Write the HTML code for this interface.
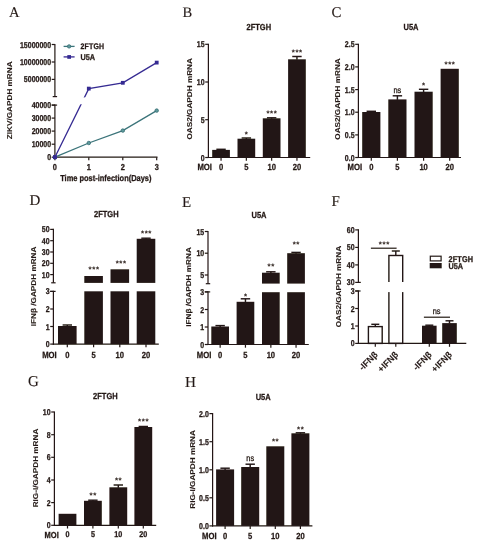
<!DOCTYPE html>
<html lang="en"><head><meta charset="utf-8"><title>Figure</title>
<style>
html,body{margin:0;padding:0;background:#fff;}
svg{display:block;font-family:"Liberation Sans", Arial, sans-serif;}
</style></head>
<body>
<svg width="479" height="550" viewBox="0 0 479 550" text-rendering="geometricPrecision">
<defs><filter id="soft" x="0" y="0" width="479" height="550" filterUnits="userSpaceOnUse"><feGaussianBlur stdDeviation="0.34"/></filter></defs>
<rect width="479" height="550" fill="#fff"/>
<g filter="url(#soft)">
<text x="9.10" y="16.70" font-size="14.6" text-anchor="start" font-weight="normal" fill="#231815" font-family='"Liberation Serif", "Times New Roman", serif' stroke="#231815" stroke-width="0.12">A</text>
<line x1="54.90" y1="43.90" x2="54.90" y2="96.60" stroke="#231815" stroke-width="1.2" stroke-linecap="butt"/>
<line x1="51.70" y1="44.50" x2="54.90" y2="44.50" stroke="#231815" stroke-width="1.2" stroke-linecap="butt"/>
<text transform="translate(51.10 47.50) scale(0.82 1)" font-size="8.54" text-anchor="end" font-weight="bold" fill="#231815" stroke="#231815" stroke-width="0.28">15000000</text>
<line x1="51.70" y1="62.00" x2="54.90" y2="62.00" stroke="#231815" stroke-width="1.2" stroke-linecap="butt"/>
<text transform="translate(51.10 65.00) scale(0.82 1)" font-size="8.54" text-anchor="end" font-weight="bold" fill="#231815" stroke="#231815" stroke-width="0.28">10000000</text>
<line x1="51.70" y1="79.40" x2="54.90" y2="79.40" stroke="#231815" stroke-width="1.2" stroke-linecap="butt"/>
<text transform="translate(51.10 82.40) scale(0.82 1)" font-size="8.54" text-anchor="end" font-weight="bold" fill="#231815" stroke="#231815" stroke-width="0.28">5000000</text>
<line x1="52.70" y1="96.60" x2="57.10" y2="96.60" stroke="#231815" stroke-width="1.2" stroke-linecap="butt"/>
<line x1="54.90" y1="104.50" x2="54.90" y2="157.80" stroke="#231815" stroke-width="1.2" stroke-linecap="butt"/>
<line x1="51.70" y1="105.10" x2="54.90" y2="105.10" stroke="#231815" stroke-width="1.2" stroke-linecap="butt"/>
<text transform="translate(51.10 108.10) scale(0.82 1)" font-size="8.54" text-anchor="end" font-weight="bold" fill="#231815" stroke="#231815" stroke-width="0.28">40000</text>
<line x1="51.70" y1="118.10" x2="54.90" y2="118.10" stroke="#231815" stroke-width="1.2" stroke-linecap="butt"/>
<text transform="translate(51.10 121.10) scale(0.82 1)" font-size="8.54" text-anchor="end" font-weight="bold" fill="#231815" stroke="#231815" stroke-width="0.28">30000</text>
<line x1="51.70" y1="131.10" x2="54.90" y2="131.10" stroke="#231815" stroke-width="1.2" stroke-linecap="butt"/>
<text transform="translate(51.10 134.10) scale(0.82 1)" font-size="8.54" text-anchor="end" font-weight="bold" fill="#231815" stroke="#231815" stroke-width="0.28">20000</text>
<line x1="51.70" y1="144.20" x2="54.90" y2="144.20" stroke="#231815" stroke-width="1.2" stroke-linecap="butt"/>
<text transform="translate(51.10 147.20) scale(0.82 1)" font-size="8.54" text-anchor="end" font-weight="bold" fill="#231815" stroke="#231815" stroke-width="0.28">10000</text>
<line x1="51.70" y1="157.20" x2="54.90" y2="157.20" stroke="#231815" stroke-width="1.2" stroke-linecap="butt"/>
<text transform="translate(51.10 160.20) scale(0.82 1)" font-size="8.54" text-anchor="end" font-weight="bold" fill="#231815" stroke="#231815" stroke-width="0.28">0</text>
<line x1="51.70" y1="105.10" x2="57.10" y2="105.10" stroke="#231815" stroke-width="1.2" stroke-linecap="butt"/>
<line x1="54.30" y1="157.20" x2="157.50" y2="157.20" stroke="#231815" stroke-width="1.2" stroke-linecap="butt"/>
<line x1="54.90" y1="157.20" x2="54.90" y2="160.20" stroke="#231815" stroke-width="1.2" stroke-linecap="butt"/>
<line x1="88.80" y1="157.20" x2="88.80" y2="160.20" stroke="#231815" stroke-width="1.2" stroke-linecap="butt"/>
<line x1="122.80" y1="157.20" x2="122.80" y2="160.20" stroke="#231815" stroke-width="1.2" stroke-linecap="butt"/>
<line x1="156.70" y1="157.20" x2="156.70" y2="160.20" stroke="#231815" stroke-width="1.2" stroke-linecap="butt"/>
<text transform="translate(54.90 169.60) scale(0.86 1)" font-size="8.60" text-anchor="middle" font-weight="bold" fill="#231815" stroke="#231815" stroke-width="0.28">0</text>
<text transform="translate(88.80 169.60) scale(0.86 1)" font-size="8.60" text-anchor="middle" font-weight="bold" fill="#231815" stroke="#231815" stroke-width="0.28">1</text>
<text transform="translate(122.80 169.60) scale(0.86 1)" font-size="8.60" text-anchor="middle" font-weight="bold" fill="#231815" stroke="#231815" stroke-width="0.28">2</text>
<text transform="translate(156.70 169.60) scale(0.86 1)" font-size="8.60" text-anchor="middle" font-weight="bold" fill="#231815" stroke="#231815" stroke-width="0.28">3</text>
<text transform="translate(105.80 180.90) scale(0.86 1)" font-size="8.66" text-anchor="middle" font-weight="bold" fill="#231815" stroke="#231815" stroke-width="0.28">Time post-infection(Days)</text>
<text transform="translate(11.92 100.30) scale(0.86 1) rotate(-90)" font-size="8.20" text-anchor="middle" font-weight="bold" fill="#231815" stroke="#231815" stroke-width="0.12">ZIKV/GAPDH mRNA</text>
<polyline points="54.9,157.2 88.8,143.0 122.8,130.6 156.7,110.6" fill="none" stroke="#3b747a" stroke-width="1.3"/>
<circle cx="54.9" cy="157.2" r="1.75" fill="#5f9a9c" stroke="#356c72" stroke-width="0.8"/>
<circle cx="88.8" cy="143.0" r="1.75" fill="#5f9a9c" stroke="#356c72" stroke-width="0.8"/>
<circle cx="122.8" cy="130.6" r="1.75" fill="#5f9a9c" stroke="#356c72" stroke-width="0.8"/>
<circle cx="156.7" cy="110.6" r="1.75" fill="#5f9a9c" stroke="#356c72" stroke-width="0.8"/>
<polyline points="54.9,157.2 88.8,88.6 122.8,82.8 156.7,62.6" fill="none" stroke="#352a92" stroke-width="1.3"/>
<rect x="58.00" y="97.40" width="40.00" height="6.90" fill="#fff"/>
<rect x="53.00" y="155.30" width="3.80" height="3.80" fill="#352a92"/>
<rect x="86.90" y="86.70" width="3.80" height="3.80" fill="#352a92"/>
<rect x="120.90" y="80.90" width="3.80" height="3.80" fill="#352a92"/>
<rect x="154.80" y="60.70" width="3.80" height="3.80" fill="#352a92"/>
<circle cx="54.9" cy="157.2" r="2.1" fill="#352a92"/>
<line x1="63.60" y1="46.40" x2="74.60" y2="46.40" stroke="#3b747a" stroke-width="1.3" stroke-linecap="butt"/>
<circle cx="69.1" cy="46.4" r="1.7" fill="#5f9a9c" stroke="#356c72" stroke-width="0.8"/>
<text transform="translate(80.40 49.10) scale(0.86 1)" font-size="8.14" text-anchor="start" font-weight="bold" fill="#231815" stroke="#231815" stroke-width="0.28" letter-spacing="0.25">2FTGH</text>
<line x1="63.60" y1="56.90" x2="74.60" y2="56.90" stroke="#352a92" stroke-width="1.3" stroke-linecap="butt"/>
<rect x="67.30" y="55.10" width="3.70" height="3.70" fill="#352a92"/>
<text transform="translate(80.40 59.50) scale(0.86 1)" font-size="8.49" text-anchor="start" font-weight="bold" fill="#231815" stroke="#231815" stroke-width="0.28">U5A</text>
<text x="182.50" y="16.70" font-size="14.6" text-anchor="start" font-weight="normal" fill="#231815" font-family='"Liberation Serif", "Times New Roman", serif' stroke="#231815" stroke-width="0.12">B</text>
<text transform="translate(258.80 30.30) scale(0.86 1)" font-size="8.72" text-anchor="middle" font-weight="bold" fill="#231815" stroke="#231815" stroke-width="0.28">2FTGH</text>
<text transform="translate(191.52 98.80) scale(0.86 1) rotate(-90)" font-size="8.20" text-anchor="middle" font-weight="bold" fill="#231815" stroke="#231815" stroke-width="0.12">OAS2/GAPDH mRNA</text>
<rect x="212.20" y="149.90" width="17.70" height="7.60" fill="#231815"/>
<line x1="221.05" y1="149.30" x2="221.05" y2="150.40" stroke="#231815" stroke-width="1.45" stroke-linecap="butt"/>
<line x1="216.35" y1="149.30" x2="225.75" y2="149.30" stroke="#231815" stroke-width="1.45" stroke-linecap="butt"/>
<rect x="237.50" y="138.70" width="17.70" height="18.80" fill="#231815"/>
<line x1="246.35" y1="138.00" x2="246.35" y2="139.20" stroke="#231815" stroke-width="1.45" stroke-linecap="butt"/>
<line x1="241.65" y1="138.00" x2="251.05" y2="138.00" stroke="#231815" stroke-width="1.45" stroke-linecap="butt"/>
<text x="246.65" y="136.87" font-size="7.8" text-anchor="middle" font-weight="bold" fill="#231815" stroke="#231815" stroke-width="0.1" letter-spacing="0.65">*</text>
<rect x="262.80" y="118.30" width="17.70" height="39.20" fill="#231815"/>
<line x1="271.65" y1="117.80" x2="271.65" y2="118.80" stroke="#231815" stroke-width="1.45" stroke-linecap="butt"/>
<line x1="266.95" y1="117.80" x2="276.35" y2="117.80" stroke="#231815" stroke-width="1.45" stroke-linecap="butt"/>
<text x="271.95" y="115.87" font-size="7.8" text-anchor="middle" font-weight="bold" fill="#231815" stroke="#231815" stroke-width="0.1" letter-spacing="0.65">***</text>
<rect x="288.10" y="59.30" width="17.70" height="98.20" fill="#231815"/>
<line x1="296.95" y1="56.50" x2="296.95" y2="59.80" stroke="#231815" stroke-width="1.45" stroke-linecap="butt"/>
<line x1="292.25" y1="56.50" x2="301.65" y2="56.50" stroke="#231815" stroke-width="1.45" stroke-linecap="butt"/>
<text x="297.25" y="54.97" font-size="7.8" text-anchor="middle" font-weight="bold" fill="#231815" stroke="#231815" stroke-width="0.1" letter-spacing="0.65">***</text>
<line x1="208.40" y1="43.70" x2="208.40" y2="158.10" stroke="#231815" stroke-width="1.2" stroke-linecap="butt"/>
<line x1="205.20" y1="44.30" x2="208.40" y2="44.30" stroke="#231815" stroke-width="1.2" stroke-linecap="butt"/>
<text transform="translate(204.60 47.30) scale(0.82 1)" font-size="8.54" text-anchor="end" font-weight="bold" fill="#231815" stroke="#231815" stroke-width="0.28">15</text>
<line x1="205.20" y1="82.00" x2="208.40" y2="82.00" stroke="#231815" stroke-width="1.2" stroke-linecap="butt"/>
<text transform="translate(204.60 85.00) scale(0.82 1)" font-size="8.54" text-anchor="end" font-weight="bold" fill="#231815" stroke="#231815" stroke-width="0.28">10</text>
<line x1="205.20" y1="119.70" x2="208.40" y2="119.70" stroke="#231815" stroke-width="1.2" stroke-linecap="butt"/>
<text transform="translate(204.60 122.70) scale(0.82 1)" font-size="8.54" text-anchor="end" font-weight="bold" fill="#231815" stroke="#231815" stroke-width="0.28">5</text>
<line x1="205.20" y1="157.50" x2="208.40" y2="157.50" stroke="#231815" stroke-width="1.2" stroke-linecap="butt"/>
<text transform="translate(204.60 160.50) scale(0.82 1)" font-size="8.54" text-anchor="end" font-weight="bold" fill="#231815" stroke="#231815" stroke-width="0.28">0</text>
<line x1="207.80" y1="157.50" x2="310.20" y2="157.50" stroke="#231815" stroke-width="1.2" stroke-linecap="butt"/>
<line x1="221.05" y1="157.50" x2="221.05" y2="160.70" stroke="#231815" stroke-width="1.2" stroke-linecap="butt"/>
<line x1="246.35" y1="157.50" x2="246.35" y2="160.70" stroke="#231815" stroke-width="1.2" stroke-linecap="butt"/>
<line x1="271.65" y1="157.50" x2="271.65" y2="160.70" stroke="#231815" stroke-width="1.2" stroke-linecap="butt"/>
<line x1="296.95" y1="157.50" x2="296.95" y2="160.70" stroke="#231815" stroke-width="1.2" stroke-linecap="butt"/>
<text transform="translate(221.05 170.30) scale(0.86 1)" font-size="8.84" text-anchor="middle" font-weight="bold" fill="#231815" stroke="#231815" stroke-width="0.28">0</text>
<text transform="translate(246.35 170.30) scale(0.86 1)" font-size="8.84" text-anchor="middle" font-weight="bold" fill="#231815" stroke="#231815" stroke-width="0.28">5</text>
<text transform="translate(271.65 170.30) scale(0.86 1)" font-size="8.84" text-anchor="middle" font-weight="bold" fill="#231815" stroke="#231815" stroke-width="0.28">10</text>
<text transform="translate(296.95 170.30) scale(0.86 1)" font-size="8.84" text-anchor="middle" font-weight="bold" fill="#231815" stroke="#231815" stroke-width="0.28">20</text>
<text transform="translate(197.40 170.30) scale(0.86 1)" font-size="8.95" text-anchor="start" font-weight="bold" fill="#231815" stroke="#231815" stroke-width="0.28">MOI</text>
<text x="331.50" y="16.80" font-size="14.9" text-anchor="start" font-weight="normal" fill="#231815" font-family='"Liberation Serif", "Times New Roman", serif' stroke="#231815" stroke-width="0.12">C</text>
<text transform="translate(411.00 30.30) scale(0.86 1)" font-size="8.72" text-anchor="middle" font-weight="bold" fill="#231815" stroke="#231815" stroke-width="0.28">U5A</text>
<text transform="translate(339.52 99.00) scale(0.86 1) rotate(-90)" font-size="8.20" text-anchor="middle" font-weight="bold" fill="#231815" stroke="#231815" stroke-width="0.12">OAS2/GAPDH mRNA</text>
<rect x="362.20" y="112.00" width="18.20" height="45.50" fill="#231815"/>
<line x1="371.30" y1="111.30" x2="371.30" y2="112.50" stroke="#231815" stroke-width="1.45" stroke-linecap="butt"/>
<line x1="366.60" y1="111.30" x2="376.00" y2="111.30" stroke="#231815" stroke-width="1.45" stroke-linecap="butt"/>
<rect x="388.30" y="99.40" width="18.20" height="58.10" fill="#231815"/>
<line x1="397.40" y1="95.80" x2="397.40" y2="99.90" stroke="#231815" stroke-width="1.45" stroke-linecap="butt"/>
<line x1="392.70" y1="95.80" x2="402.10" y2="95.80" stroke="#231815" stroke-width="1.45" stroke-linecap="butt"/>
<text transform="translate(397.40 92.70) scale(0.86 1)" font-size="8.60" text-anchor="middle" font-weight="normal" fill="#231815" stroke="#231815" stroke-width="0.3">ns</text>
<rect x="414.50" y="91.70" width="18.20" height="65.80" fill="#231815"/>
<line x1="423.60" y1="89.30" x2="423.60" y2="92.20" stroke="#231815" stroke-width="1.45" stroke-linecap="butt"/>
<line x1="418.90" y1="89.30" x2="428.30" y2="89.30" stroke="#231815" stroke-width="1.45" stroke-linecap="butt"/>
<text x="423.90" y="88.37" font-size="7.8" text-anchor="middle" font-weight="bold" fill="#231815" stroke="#231815" stroke-width="0.1" letter-spacing="0.65">*</text>
<rect x="440.60" y="68.80" width="18.20" height="88.70" fill="#231815"/>
<text x="450.00" y="66.77" font-size="7.8" text-anchor="middle" font-weight="bold" fill="#231815" stroke="#231815" stroke-width="0.1" letter-spacing="0.65">***</text>
<line x1="358.40" y1="43.70" x2="358.40" y2="158.10" stroke="#231815" stroke-width="1.2" stroke-linecap="butt"/>
<line x1="355.20" y1="44.30" x2="358.40" y2="44.30" stroke="#231815" stroke-width="1.2" stroke-linecap="butt"/>
<text transform="translate(354.60 47.30) scale(0.82 1)" font-size="8.54" text-anchor="end" font-weight="bold" fill="#231815" stroke="#231815" stroke-width="0.28">2.5</text>
<line x1="355.20" y1="66.90" x2="358.40" y2="66.90" stroke="#231815" stroke-width="1.2" stroke-linecap="butt"/>
<text transform="translate(354.60 69.90) scale(0.82 1)" font-size="8.54" text-anchor="end" font-weight="bold" fill="#231815" stroke="#231815" stroke-width="0.28">2.0</text>
<line x1="355.20" y1="89.60" x2="358.40" y2="89.60" stroke="#231815" stroke-width="1.2" stroke-linecap="butt"/>
<text transform="translate(354.60 92.60) scale(0.82 1)" font-size="8.54" text-anchor="end" font-weight="bold" fill="#231815" stroke="#231815" stroke-width="0.28">1.5</text>
<line x1="355.20" y1="112.20" x2="358.40" y2="112.20" stroke="#231815" stroke-width="1.2" stroke-linecap="butt"/>
<text transform="translate(354.60 115.20) scale(0.82 1)" font-size="8.54" text-anchor="end" font-weight="bold" fill="#231815" stroke="#231815" stroke-width="0.28">1.0</text>
<line x1="355.20" y1="134.90" x2="358.40" y2="134.90" stroke="#231815" stroke-width="1.2" stroke-linecap="butt"/>
<text transform="translate(354.60 137.90) scale(0.82 1)" font-size="8.54" text-anchor="end" font-weight="bold" fill="#231815" stroke="#231815" stroke-width="0.28">0.5</text>
<line x1="355.20" y1="157.50" x2="358.40" y2="157.50" stroke="#231815" stroke-width="1.2" stroke-linecap="butt"/>
<text transform="translate(354.60 160.50) scale(0.82 1)" font-size="8.54" text-anchor="end" font-weight="bold" fill="#231815" stroke="#231815" stroke-width="0.28">0.0</text>
<line x1="357.80" y1="157.50" x2="461.00" y2="157.50" stroke="#231815" stroke-width="1.2" stroke-linecap="butt"/>
<line x1="371.30" y1="157.50" x2="371.30" y2="160.70" stroke="#231815" stroke-width="1.2" stroke-linecap="butt"/>
<line x1="397.40" y1="157.50" x2="397.40" y2="160.70" stroke="#231815" stroke-width="1.2" stroke-linecap="butt"/>
<line x1="423.60" y1="157.50" x2="423.60" y2="160.70" stroke="#231815" stroke-width="1.2" stroke-linecap="butt"/>
<line x1="449.70" y1="157.50" x2="449.70" y2="160.70" stroke="#231815" stroke-width="1.2" stroke-linecap="butt"/>
<text transform="translate(371.30 170.30) scale(0.86 1)" font-size="8.84" text-anchor="middle" font-weight="bold" fill="#231815" stroke="#231815" stroke-width="0.28">0</text>
<text transform="translate(397.40 170.30) scale(0.86 1)" font-size="8.84" text-anchor="middle" font-weight="bold" fill="#231815" stroke="#231815" stroke-width="0.28">5</text>
<text transform="translate(423.60 170.30) scale(0.86 1)" font-size="8.84" text-anchor="middle" font-weight="bold" fill="#231815" stroke="#231815" stroke-width="0.28">10</text>
<text transform="translate(449.70 170.30) scale(0.86 1)" font-size="8.84" text-anchor="middle" font-weight="bold" fill="#231815" stroke="#231815" stroke-width="0.28">20</text>
<text transform="translate(347.60 170.30) scale(0.86 1)" font-size="8.95" text-anchor="start" font-weight="bold" fill="#231815" stroke="#231815" stroke-width="0.28">MOI</text>
<text x="29.50" y="204.90" font-size="15.0" text-anchor="start" font-weight="normal" fill="#231815" font-family='"Liberation Serif", "Times New Roman", serif' stroke="#231815" stroke-width="0.12">D</text>
<text transform="translate(106.30 216.60) scale(0.86 1)" font-size="8.72" text-anchor="middle" font-weight="bold" fill="#231815" stroke="#231815" stroke-width="0.28">2FTGH</text>
<text transform="translate(36.22 286.40) scale(0.86 1) rotate(-90)" font-size="8.20" text-anchor="middle" font-weight="bold" fill="#231815" stroke="#231815" stroke-width="0.12">IFNβ /GAPDH mRNA</text>
<rect x="58.00" y="326.00" width="18.60" height="18.10" fill="#231815"/>
<line x1="67.30" y1="325.00" x2="67.30" y2="326.50" stroke="#231815" stroke-width="1.45" stroke-linecap="butt"/>
<line x1="62.60" y1="325.00" x2="72.00" y2="325.00" stroke="#231815" stroke-width="1.45" stroke-linecap="butt"/>
<rect x="84.30" y="276.00" width="18.60" height="68.10" fill="#231815"/>
<text x="94.10" y="271.77" font-size="7.8" text-anchor="middle" font-weight="bold" fill="#231815" stroke="#231815" stroke-width="0.1" letter-spacing="0.65">***</text>
<rect x="110.50" y="269.30" width="18.60" height="74.80" fill="#231815"/>
<text x="121.20" y="266.07" font-size="7.8" text-anchor="middle" font-weight="bold" fill="#231815" stroke="#231815" stroke-width="0.1" letter-spacing="0.65">***</text>
<rect x="136.70" y="238.80" width="18.60" height="105.30" fill="#231815"/>
<line x1="146.00" y1="238.20" x2="146.00" y2="239.30" stroke="#231815" stroke-width="1.45" stroke-linecap="butt"/>
<line x1="141.30" y1="238.20" x2="150.70" y2="238.20" stroke="#231815" stroke-width="1.45" stroke-linecap="butt"/>
<text x="146.50" y="235.87" font-size="7.8" text-anchor="middle" font-weight="bold" fill="#231815" stroke="#231815" stroke-width="0.1" letter-spacing="0.65">***</text>
<rect x="56.00" y="282.90" width="105.00" height="8.40" fill="#fff"/>
<line x1="53.40" y1="228.80" x2="53.40" y2="282.80" stroke="#231815" stroke-width="1.2" stroke-linecap="butt"/>
<line x1="50.20" y1="229.40" x2="53.40" y2="229.40" stroke="#231815" stroke-width="1.2" stroke-linecap="butt"/>
<text transform="translate(49.60 232.40) scale(0.82 1)" font-size="8.54" text-anchor="end" font-weight="bold" fill="#231815" stroke="#231815" stroke-width="0.28">50</text>
<line x1="50.20" y1="240.70" x2="53.40" y2="240.70" stroke="#231815" stroke-width="1.2" stroke-linecap="butt"/>
<text transform="translate(49.60 243.70) scale(0.82 1)" font-size="8.54" text-anchor="end" font-weight="bold" fill="#231815" stroke="#231815" stroke-width="0.28">40</text>
<line x1="50.20" y1="252.00" x2="53.40" y2="252.00" stroke="#231815" stroke-width="1.2" stroke-linecap="butt"/>
<text transform="translate(49.60 255.00) scale(0.82 1)" font-size="8.54" text-anchor="end" font-weight="bold" fill="#231815" stroke="#231815" stroke-width="0.28">30</text>
<line x1="50.20" y1="263.30" x2="53.40" y2="263.30" stroke="#231815" stroke-width="1.2" stroke-linecap="butt"/>
<text transform="translate(49.60 266.30) scale(0.82 1)" font-size="8.54" text-anchor="end" font-weight="bold" fill="#231815" stroke="#231815" stroke-width="0.28">20</text>
<line x1="50.20" y1="274.60" x2="53.40" y2="274.60" stroke="#231815" stroke-width="1.2" stroke-linecap="butt"/>
<text transform="translate(49.60 277.60) scale(0.82 1)" font-size="8.54" text-anchor="end" font-weight="bold" fill="#231815" stroke="#231815" stroke-width="0.28">10</text>
<line x1="51.20" y1="282.80" x2="55.60" y2="282.80" stroke="#231815" stroke-width="1.2" stroke-linecap="butt"/>
<line x1="53.40" y1="290.80" x2="53.40" y2="344.70" stroke="#231815" stroke-width="1.2" stroke-linecap="butt"/>
<line x1="50.20" y1="291.40" x2="53.40" y2="291.40" stroke="#231815" stroke-width="1.2" stroke-linecap="butt"/>
<text transform="translate(49.60 294.40) scale(0.82 1)" font-size="8.54" text-anchor="end" font-weight="bold" fill="#231815" stroke="#231815" stroke-width="0.28">3</text>
<line x1="50.20" y1="309.00" x2="53.40" y2="309.00" stroke="#231815" stroke-width="1.2" stroke-linecap="butt"/>
<text transform="translate(49.60 312.00) scale(0.82 1)" font-size="8.54" text-anchor="end" font-weight="bold" fill="#231815" stroke="#231815" stroke-width="0.28">2</text>
<line x1="50.20" y1="326.50" x2="53.40" y2="326.50" stroke="#231815" stroke-width="1.2" stroke-linecap="butt"/>
<text transform="translate(49.60 329.50) scale(0.82 1)" font-size="8.54" text-anchor="end" font-weight="bold" fill="#231815" stroke="#231815" stroke-width="0.28">1</text>
<line x1="50.20" y1="344.10" x2="53.40" y2="344.10" stroke="#231815" stroke-width="1.2" stroke-linecap="butt"/>
<text transform="translate(49.60 347.10) scale(0.82 1)" font-size="8.54" text-anchor="end" font-weight="bold" fill="#231815" stroke="#231815" stroke-width="0.28">0</text>
<line x1="50.20" y1="291.40" x2="55.60" y2="291.40" stroke="#231815" stroke-width="1.2" stroke-linecap="butt"/>
<line x1="52.80" y1="344.10" x2="158.80" y2="344.10" stroke="#231815" stroke-width="1.2" stroke-linecap="butt"/>
<line x1="67.30" y1="344.10" x2="67.30" y2="347.30" stroke="#231815" stroke-width="1.2" stroke-linecap="butt"/>
<line x1="93.60" y1="344.10" x2="93.60" y2="347.30" stroke="#231815" stroke-width="1.2" stroke-linecap="butt"/>
<line x1="119.80" y1="344.10" x2="119.80" y2="347.30" stroke="#231815" stroke-width="1.2" stroke-linecap="butt"/>
<line x1="146.00" y1="344.10" x2="146.00" y2="347.30" stroke="#231815" stroke-width="1.2" stroke-linecap="butt"/>
<text transform="translate(67.30 357.90) scale(0.86 1)" font-size="8.84" text-anchor="middle" font-weight="bold" fill="#231815" stroke="#231815" stroke-width="0.28">0</text>
<text transform="translate(93.60 357.90) scale(0.86 1)" font-size="8.84" text-anchor="middle" font-weight="bold" fill="#231815" stroke="#231815" stroke-width="0.28">5</text>
<text transform="translate(119.80 357.90) scale(0.86 1)" font-size="8.84" text-anchor="middle" font-weight="bold" fill="#231815" stroke="#231815" stroke-width="0.28">10</text>
<text transform="translate(146.00 357.90) scale(0.86 1)" font-size="8.84" text-anchor="middle" font-weight="bold" fill="#231815" stroke="#231815" stroke-width="0.28">20</text>
<text transform="translate(42.20 357.90) scale(0.86 1)" font-size="8.95" text-anchor="start" font-weight="bold" fill="#231815" stroke="#231815" stroke-width="0.28">MOI</text>
<text x="182.00" y="206.50" font-size="15.0" text-anchor="start" font-weight="normal" fill="#231815" font-family='"Liberation Serif", "Times New Roman", serif' stroke="#231815" stroke-width="0.12">E</text>
<text transform="translate(259.00 218.20) scale(0.86 1)" font-size="8.72" text-anchor="middle" font-weight="bold" fill="#231815" stroke="#231815" stroke-width="0.28">U5A</text>
<text transform="translate(191.22 287.00) scale(0.86 1) rotate(-90)" font-size="8.20" text-anchor="middle" font-weight="bold" fill="#231815" stroke="#231815" stroke-width="0.12">IFNβ /GAPDH mRNA</text>
<rect x="211.30" y="326.50" width="17.70" height="18.00" fill="#231815"/>
<line x1="220.15" y1="325.60" x2="220.15" y2="327.00" stroke="#231815" stroke-width="1.45" stroke-linecap="butt"/>
<line x1="215.45" y1="325.60" x2="224.85" y2="325.60" stroke="#231815" stroke-width="1.45" stroke-linecap="butt"/>
<rect x="236.60" y="301.80" width="17.70" height="42.70" fill="#231815"/>
<line x1="245.45" y1="298.80" x2="245.45" y2="302.30" stroke="#231815" stroke-width="1.45" stroke-linecap="butt"/>
<line x1="240.75" y1="298.80" x2="250.15" y2="298.80" stroke="#231815" stroke-width="1.45" stroke-linecap="butt"/>
<rect x="262.00" y="272.70" width="17.70" height="71.80" fill="#231815"/>
<line x1="270.85" y1="271.80" x2="270.85" y2="273.20" stroke="#231815" stroke-width="1.45" stroke-linecap="butt"/>
<line x1="266.15" y1="271.80" x2="275.55" y2="271.80" stroke="#231815" stroke-width="1.45" stroke-linecap="butt"/>
<rect x="287.20" y="253.20" width="17.70" height="91.30" fill="#231815"/>
<line x1="296.05" y1="252.40" x2="296.05" y2="253.70" stroke="#231815" stroke-width="1.45" stroke-linecap="butt"/>
<line x1="291.35" y1="252.40" x2="300.75" y2="252.40" stroke="#231815" stroke-width="1.45" stroke-linecap="butt"/>
<rect x="210.00" y="283.60" width="102.00" height="8.60" fill="#fff"/>
<text x="245.75" y="298.87" font-size="7.8" text-anchor="middle" font-weight="bold" fill="#231815" stroke="#231815" stroke-width="0.1" letter-spacing="0.65">*</text>
<text x="271.15" y="268.67" font-size="7.8" text-anchor="middle" font-weight="bold" fill="#231815" stroke="#231815" stroke-width="0.1" letter-spacing="0.65">**</text>
<text x="296.35" y="247.37" font-size="7.8" text-anchor="middle" font-weight="bold" fill="#231815" stroke="#231815" stroke-width="0.1" letter-spacing="0.65">**</text>
<line x1="208.00" y1="230.90" x2="208.00" y2="283.70" stroke="#231815" stroke-width="1.2" stroke-linecap="butt"/>
<line x1="204.80" y1="231.50" x2="208.00" y2="231.50" stroke="#231815" stroke-width="1.2" stroke-linecap="butt"/>
<text transform="translate(204.20 234.50) scale(0.82 1)" font-size="8.54" text-anchor="end" font-weight="bold" fill="#231815" stroke="#231815" stroke-width="0.28">15</text>
<line x1="204.80" y1="253.20" x2="208.00" y2="253.20" stroke="#231815" stroke-width="1.2" stroke-linecap="butt"/>
<text transform="translate(204.20 256.20) scale(0.82 1)" font-size="8.54" text-anchor="end" font-weight="bold" fill="#231815" stroke="#231815" stroke-width="0.28">10</text>
<line x1="204.80" y1="275.00" x2="208.00" y2="275.00" stroke="#231815" stroke-width="1.2" stroke-linecap="butt"/>
<text transform="translate(204.20 278.00) scale(0.82 1)" font-size="8.54" text-anchor="end" font-weight="bold" fill="#231815" stroke="#231815" stroke-width="0.28">5</text>
<line x1="205.80" y1="283.70" x2="210.20" y2="283.70" stroke="#231815" stroke-width="1.2" stroke-linecap="butt"/>
<line x1="208.00" y1="291.30" x2="208.00" y2="345.10" stroke="#231815" stroke-width="1.2" stroke-linecap="butt"/>
<line x1="204.80" y1="291.90" x2="208.00" y2="291.90" stroke="#231815" stroke-width="1.2" stroke-linecap="butt"/>
<text transform="translate(204.20 294.90) scale(0.82 1)" font-size="8.54" text-anchor="end" font-weight="bold" fill="#231815" stroke="#231815" stroke-width="0.28">3</text>
<line x1="204.80" y1="309.50" x2="208.00" y2="309.50" stroke="#231815" stroke-width="1.2" stroke-linecap="butt"/>
<text transform="translate(204.20 312.50) scale(0.82 1)" font-size="8.54" text-anchor="end" font-weight="bold" fill="#231815" stroke="#231815" stroke-width="0.28">2</text>
<line x1="204.80" y1="327.00" x2="208.00" y2="327.00" stroke="#231815" stroke-width="1.2" stroke-linecap="butt"/>
<text transform="translate(204.20 330.00) scale(0.82 1)" font-size="8.54" text-anchor="end" font-weight="bold" fill="#231815" stroke="#231815" stroke-width="0.28">1</text>
<line x1="204.80" y1="344.50" x2="208.00" y2="344.50" stroke="#231815" stroke-width="1.2" stroke-linecap="butt"/>
<text transform="translate(204.20 347.50) scale(0.82 1)" font-size="8.54" text-anchor="end" font-weight="bold" fill="#231815" stroke="#231815" stroke-width="0.28">0</text>
<line x1="204.80" y1="291.90" x2="210.20" y2="291.90" stroke="#231815" stroke-width="1.2" stroke-linecap="butt"/>
<line x1="207.40" y1="344.50" x2="308.80" y2="344.50" stroke="#231815" stroke-width="1.2" stroke-linecap="butt"/>
<line x1="220.15" y1="344.50" x2="220.15" y2="347.70" stroke="#231815" stroke-width="1.2" stroke-linecap="butt"/>
<line x1="245.45" y1="344.50" x2="245.45" y2="347.70" stroke="#231815" stroke-width="1.2" stroke-linecap="butt"/>
<line x1="270.85" y1="344.50" x2="270.85" y2="347.70" stroke="#231815" stroke-width="1.2" stroke-linecap="butt"/>
<line x1="296.05" y1="344.50" x2="296.05" y2="347.70" stroke="#231815" stroke-width="1.2" stroke-linecap="butt"/>
<text transform="translate(220.15 358.40) scale(0.86 1)" font-size="8.84" text-anchor="middle" font-weight="bold" fill="#231815" stroke="#231815" stroke-width="0.28">0</text>
<text transform="translate(245.45 358.40) scale(0.86 1)" font-size="8.84" text-anchor="middle" font-weight="bold" fill="#231815" stroke="#231815" stroke-width="0.28">5</text>
<text transform="translate(270.85 358.40) scale(0.86 1)" font-size="8.84" text-anchor="middle" font-weight="bold" fill="#231815" stroke="#231815" stroke-width="0.28">10</text>
<text transform="translate(296.05 358.40) scale(0.86 1)" font-size="8.84" text-anchor="middle" font-weight="bold" fill="#231815" stroke="#231815" stroke-width="0.28">20</text>
<text transform="translate(196.80 358.40) scale(0.86 1)" font-size="8.95" text-anchor="start" font-weight="bold" fill="#231815" stroke="#231815" stroke-width="0.28">MOI</text>
<text x="331.40" y="205.60" font-size="15.0" text-anchor="start" font-weight="normal" fill="#231815" font-family='"Liberation Serif", "Times New Roman", serif' stroke="#231815" stroke-width="0.12">F</text>
<text transform="translate(340.92 286.60) scale(0.86 1) rotate(-90)" font-size="8.20" text-anchor="middle" font-weight="bold" fill="#231815" stroke="#231815" stroke-width="0.12">OAS2/GAPDH mRNA</text>
<rect x="368.40" y="326.60" width="13.80" height="16.80" fill="#fff" stroke="#231815" stroke-width="1.4"/>
<line x1="375.30" y1="324.30" x2="375.30" y2="326.50" stroke="#231815" stroke-width="1.45" stroke-linecap="butt"/>
<line x1="371.30" y1="324.30" x2="379.30" y2="324.30" stroke="#231815" stroke-width="1.45" stroke-linecap="butt"/>
<rect x="388.90" y="255.50" width="13.80" height="87.90" fill="#fff" stroke="#231815" stroke-width="1.4"/>
<line x1="395.80" y1="251.00" x2="395.80" y2="255.40" stroke="#231815" stroke-width="1.45" stroke-linecap="butt"/>
<line x1="391.80" y1="251.00" x2="399.80" y2="251.00" stroke="#231815" stroke-width="1.45" stroke-linecap="butt"/>
<rect x="422.00" y="325.70" width="14.60" height="17.70" fill="#231815"/>
<line x1="429.30" y1="325.20" x2="429.30" y2="326.20" stroke="#231815" stroke-width="1.45" stroke-linecap="butt"/>
<line x1="425.30" y1="325.20" x2="433.30" y2="325.20" stroke="#231815" stroke-width="1.45" stroke-linecap="butt"/>
<rect x="442.20" y="323.10" width="14.60" height="20.30" fill="#231815"/>
<line x1="449.50" y1="320.80" x2="449.50" y2="323.60" stroke="#231815" stroke-width="1.45" stroke-linecap="butt"/>
<line x1="445.50" y1="320.80" x2="453.50" y2="320.80" stroke="#231815" stroke-width="1.45" stroke-linecap="butt"/>
<rect x="385.00" y="282.00" width="22.00" height="10.10" fill="#fff"/>
<line x1="358.40" y1="229.30" x2="358.40" y2="283.00" stroke="#231815" stroke-width="1.2" stroke-linecap="butt"/>
<line x1="355.20" y1="229.90" x2="358.40" y2="229.90" stroke="#231815" stroke-width="1.2" stroke-linecap="butt"/>
<text transform="translate(354.60 232.90) scale(0.82 1)" font-size="8.54" text-anchor="end" font-weight="bold" fill="#231815" stroke="#231815" stroke-width="0.28">60</text>
<line x1="355.20" y1="247.40" x2="358.40" y2="247.40" stroke="#231815" stroke-width="1.2" stroke-linecap="butt"/>
<text transform="translate(354.60 250.40) scale(0.82 1)" font-size="8.54" text-anchor="end" font-weight="bold" fill="#231815" stroke="#231815" stroke-width="0.28">50</text>
<line x1="355.20" y1="264.90" x2="358.40" y2="264.90" stroke="#231815" stroke-width="1.2" stroke-linecap="butt"/>
<text transform="translate(354.60 267.90) scale(0.82 1)" font-size="8.54" text-anchor="end" font-weight="bold" fill="#231815" stroke="#231815" stroke-width="0.28">40</text>
<line x1="355.20" y1="282.40" x2="358.40" y2="282.40" stroke="#231815" stroke-width="1.2" stroke-linecap="butt"/>
<text transform="translate(354.60 285.40) scale(0.82 1)" font-size="8.54" text-anchor="end" font-weight="bold" fill="#231815" stroke="#231815" stroke-width="0.28">30</text>
<line x1="358.40" y1="282.40" x2="360.80" y2="282.40" stroke="#231815" stroke-width="1.2" stroke-linecap="butt"/>
<line x1="358.40" y1="290.40" x2="358.40" y2="344.00" stroke="#231815" stroke-width="1.2" stroke-linecap="butt"/>
<line x1="355.20" y1="291.00" x2="358.40" y2="291.00" stroke="#231815" stroke-width="1.2" stroke-linecap="butt"/>
<text transform="translate(354.60 294.00) scale(0.82 1)" font-size="8.54" text-anchor="end" font-weight="bold" fill="#231815" stroke="#231815" stroke-width="0.28">3</text>
<line x1="355.20" y1="308.50" x2="358.40" y2="308.50" stroke="#231815" stroke-width="1.2" stroke-linecap="butt"/>
<text transform="translate(354.60 311.50) scale(0.82 1)" font-size="8.54" text-anchor="end" font-weight="bold" fill="#231815" stroke="#231815" stroke-width="0.28">2</text>
<line x1="355.20" y1="326.00" x2="358.40" y2="326.00" stroke="#231815" stroke-width="1.2" stroke-linecap="butt"/>
<text transform="translate(354.60 329.00) scale(0.82 1)" font-size="8.54" text-anchor="end" font-weight="bold" fill="#231815" stroke="#231815" stroke-width="0.28">1</text>
<line x1="355.20" y1="343.40" x2="358.40" y2="343.40" stroke="#231815" stroke-width="1.2" stroke-linecap="butt"/>
<text transform="translate(354.60 346.40) scale(0.82 1)" font-size="8.54" text-anchor="end" font-weight="bold" fill="#231815" stroke="#231815" stroke-width="0.28">0</text>
<line x1="355.20" y1="291.00" x2="360.60" y2="291.00" stroke="#231815" stroke-width="1.2" stroke-linecap="butt"/>
<line x1="357.80" y1="343.40" x2="466.30" y2="343.40" stroke="#231815" stroke-width="1.2" stroke-linecap="butt"/>
<line x1="375.30" y1="343.40" x2="375.30" y2="346.80" stroke="#231815" stroke-width="1.2" stroke-linecap="butt"/>
<line x1="395.80" y1="343.40" x2="395.80" y2="346.80" stroke="#231815" stroke-width="1.2" stroke-linecap="butt"/>
<line x1="429.30" y1="343.40" x2="429.30" y2="346.80" stroke="#231815" stroke-width="1.2" stroke-linecap="butt"/>
<line x1="449.50" y1="343.40" x2="449.50" y2="346.80" stroke="#231815" stroke-width="1.2" stroke-linecap="butt"/>
<line x1="370.90" y1="248.20" x2="396.60" y2="248.20" stroke="#231815" stroke-width="1.2" stroke-linecap="butt"/>
<text x="384.30" y="247.47" font-size="7.8" text-anchor="middle" font-weight="bold" fill="#231815" stroke="#231815" stroke-width="0.1" letter-spacing="0.65">***</text>
<line x1="423.90" y1="317.20" x2="450.00" y2="317.20" stroke="#231815" stroke-width="1.2" stroke-linecap="butt"/>
<text transform="translate(436.60 313.50) scale(0.86 1)" font-size="8.60" text-anchor="middle" font-weight="normal" fill="#231815" stroke="#231815" stroke-width="0.3">ns</text>
<text x="378.30" y="355.20" font-size="8.8" text-anchor="end" font-weight="bold" fill="#231815" transform="rotate(-45 378.30 355.20)" stroke="#231815" stroke-width="0.12">-IFNβ</text>
<text x="398.80" y="355.20" font-size="8.8" text-anchor="end" font-weight="bold" fill="#231815" transform="rotate(-45 398.80 355.20)" stroke="#231815" stroke-width="0.12">+IFNβ</text>
<text x="432.30" y="355.20" font-size="8.8" text-anchor="end" font-weight="bold" fill="#231815" transform="rotate(-45 432.30 355.20)" stroke="#231815" stroke-width="0.12">-IFNβ</text>
<text x="452.50" y="355.20" font-size="8.8" text-anchor="end" font-weight="bold" fill="#231815" transform="rotate(-45 452.50 355.20)" stroke="#231815" stroke-width="0.12">+IFNβ</text>
<rect x="430.30" y="256.20" width="10.80" height="4.70" fill="#fff" stroke="#231815" stroke-width="1.2"/>
<rect x="429.70" y="263.00" width="12.00" height="5.30" fill="#231815"/>
<text transform="translate(448.40 261.60) scale(0.86 1)" font-size="8.49" text-anchor="start" font-weight="bold" fill="#231815" stroke="#231815" stroke-width="0.28" letter-spacing="0.2">2FTGH</text>
<text transform="translate(448.40 268.90) scale(0.86 1)" font-size="8.49" text-anchor="start" font-weight="bold" fill="#231815" stroke="#231815" stroke-width="0.28">U5A</text>
<text x="28.00" y="385.70" font-size="15.0" text-anchor="start" font-weight="normal" fill="#231815" font-family='"Liberation Serif", "Times New Roman", serif' stroke="#231815" stroke-width="0.12">G</text>
<text transform="translate(105.40 398.70) scale(0.86 1)" font-size="8.72" text-anchor="middle" font-weight="bold" fill="#231815" stroke="#231815" stroke-width="0.28">2FTGH</text>
<text transform="translate(38.12 468.00) scale(0.86 1) rotate(-90)" font-size="8.20" text-anchor="middle" font-weight="bold" fill="#231815" stroke="#231815" stroke-width="0.12">RIG-I/GAPDH mRNA</text>
<rect x="58.60" y="513.80" width="17.80" height="11.50" fill="#231815"/>
<rect x="84.00" y="500.80" width="17.80" height="24.50" fill="#231815"/>
<line x1="92.90" y1="500.20" x2="92.90" y2="501.30" stroke="#231815" stroke-width="1.45" stroke-linecap="butt"/>
<line x1="88.20" y1="500.20" x2="97.60" y2="500.20" stroke="#231815" stroke-width="1.45" stroke-linecap="butt"/>
<text x="93.20" y="498.37" font-size="7.8" text-anchor="middle" font-weight="bold" fill="#231815" stroke="#231815" stroke-width="0.1" letter-spacing="0.65">**</text>
<rect x="109.40" y="487.30" width="17.80" height="38.00" fill="#231815"/>
<line x1="118.30" y1="485.00" x2="118.30" y2="487.80" stroke="#231815" stroke-width="1.45" stroke-linecap="butt"/>
<line x1="113.60" y1="485.00" x2="123.00" y2="485.00" stroke="#231815" stroke-width="1.45" stroke-linecap="butt"/>
<text x="118.60" y="483.37" font-size="7.8" text-anchor="middle" font-weight="bold" fill="#231815" stroke="#231815" stroke-width="0.1" letter-spacing="0.65">**</text>
<rect x="134.40" y="427.00" width="17.80" height="98.30" fill="#231815"/>
<line x1="143.30" y1="426.50" x2="143.30" y2="427.50" stroke="#231815" stroke-width="1.45" stroke-linecap="butt"/>
<line x1="138.60" y1="426.50" x2="148.00" y2="426.50" stroke="#231815" stroke-width="1.45" stroke-linecap="butt"/>
<text x="143.60" y="423.87" font-size="7.8" text-anchor="middle" font-weight="bold" fill="#231815" stroke="#231815" stroke-width="0.1" letter-spacing="0.65">***</text>
<line x1="54.40" y1="411.40" x2="54.40" y2="525.90" stroke="#231815" stroke-width="1.2" stroke-linecap="butt"/>
<line x1="51.20" y1="412.00" x2="54.40" y2="412.00" stroke="#231815" stroke-width="1.2" stroke-linecap="butt"/>
<text transform="translate(50.60 415.00) scale(0.82 1)" font-size="8.54" text-anchor="end" font-weight="bold" fill="#231815" stroke="#231815" stroke-width="0.28">10</text>
<line x1="51.20" y1="434.70" x2="54.40" y2="434.70" stroke="#231815" stroke-width="1.2" stroke-linecap="butt"/>
<text transform="translate(50.60 437.70) scale(0.82 1)" font-size="8.54" text-anchor="end" font-weight="bold" fill="#231815" stroke="#231815" stroke-width="0.28">8</text>
<line x1="51.20" y1="457.30" x2="54.40" y2="457.30" stroke="#231815" stroke-width="1.2" stroke-linecap="butt"/>
<text transform="translate(50.60 460.30) scale(0.82 1)" font-size="8.54" text-anchor="end" font-weight="bold" fill="#231815" stroke="#231815" stroke-width="0.28">6</text>
<line x1="51.20" y1="480.00" x2="54.40" y2="480.00" stroke="#231815" stroke-width="1.2" stroke-linecap="butt"/>
<text transform="translate(50.60 483.00) scale(0.82 1)" font-size="8.54" text-anchor="end" font-weight="bold" fill="#231815" stroke="#231815" stroke-width="0.28">4</text>
<line x1="51.20" y1="502.60" x2="54.40" y2="502.60" stroke="#231815" stroke-width="1.2" stroke-linecap="butt"/>
<text transform="translate(50.60 505.60) scale(0.82 1)" font-size="8.54" text-anchor="end" font-weight="bold" fill="#231815" stroke="#231815" stroke-width="0.28">2</text>
<line x1="51.20" y1="525.30" x2="54.40" y2="525.30" stroke="#231815" stroke-width="1.2" stroke-linecap="butt"/>
<text transform="translate(50.60 528.30) scale(0.82 1)" font-size="8.54" text-anchor="end" font-weight="bold" fill="#231815" stroke="#231815" stroke-width="0.28">0</text>
<line x1="53.80" y1="525.30" x2="156.20" y2="525.30" stroke="#231815" stroke-width="1.2" stroke-linecap="butt"/>
<line x1="67.50" y1="525.30" x2="67.50" y2="528.50" stroke="#231815" stroke-width="1.2" stroke-linecap="butt"/>
<line x1="92.90" y1="525.30" x2="92.90" y2="528.50" stroke="#231815" stroke-width="1.2" stroke-linecap="butt"/>
<line x1="118.30" y1="525.30" x2="118.30" y2="528.50" stroke="#231815" stroke-width="1.2" stroke-linecap="butt"/>
<line x1="143.30" y1="525.30" x2="143.30" y2="528.50" stroke="#231815" stroke-width="1.2" stroke-linecap="butt"/>
<text transform="translate(67.50 537.30) scale(0.86 1)" font-size="8.37" text-anchor="middle" font-weight="bold" fill="#231815" stroke="#231815" stroke-width="0.28">0</text>
<text transform="translate(92.90 537.30) scale(0.86 1)" font-size="8.37" text-anchor="middle" font-weight="bold" fill="#231815" stroke="#231815" stroke-width="0.28">5</text>
<text transform="translate(118.30 537.30) scale(0.86 1)" font-size="8.37" text-anchor="middle" font-weight="bold" fill="#231815" stroke="#231815" stroke-width="0.28">10</text>
<text transform="translate(143.30 537.30) scale(0.86 1)" font-size="8.37" text-anchor="middle" font-weight="bold" fill="#231815" stroke="#231815" stroke-width="0.28">20</text>
<text transform="translate(44.60 538.20) scale(0.86 1)" font-size="8.72" text-anchor="start" font-weight="bold" fill="#231815" stroke="#231815" stroke-width="0.28">MOI</text>
<text x="185.10" y="387.40" font-size="15.2" text-anchor="start" font-weight="normal" fill="#231815" font-family='"Liberation Serif", "Times New Roman", serif' stroke="#231815" stroke-width="0.12">H</text>
<text transform="translate(263.20 399.50) scale(0.86 1)" font-size="8.72" text-anchor="middle" font-weight="bold" fill="#231815" stroke="#231815" stroke-width="0.28">U5A</text>
<text transform="translate(194.52 469.40) scale(0.86 1) rotate(-90)" font-size="8.20" text-anchor="middle" font-weight="bold" fill="#231815" stroke="#231815" stroke-width="0.12">RIG-I/GAPDH mRNA</text>
<rect x="216.10" y="469.40" width="18.00" height="56.50" fill="#231815"/>
<line x1="225.10" y1="468.20" x2="225.10" y2="469.90" stroke="#231815" stroke-width="1.45" stroke-linecap="butt"/>
<line x1="220.40" y1="468.20" x2="229.80" y2="468.20" stroke="#231815" stroke-width="1.45" stroke-linecap="butt"/>
<rect x="241.20" y="467.00" width="18.00" height="58.90" fill="#231815"/>
<line x1="250.20" y1="464.20" x2="250.20" y2="467.50" stroke="#231815" stroke-width="1.45" stroke-linecap="butt"/>
<line x1="245.50" y1="464.20" x2="254.90" y2="464.20" stroke="#231815" stroke-width="1.45" stroke-linecap="butt"/>
<text transform="translate(250.20 460.90) scale(0.86 1)" font-size="8.60" text-anchor="middle" font-weight="normal" fill="#231815" stroke="#231815" stroke-width="0.3">ns</text>
<rect x="266.30" y="446.30" width="18.00" height="79.60" fill="#231815"/>
<text x="275.60" y="443.87" font-size="7.8" text-anchor="middle" font-weight="bold" fill="#231815" stroke="#231815" stroke-width="0.1" letter-spacing="0.65">**</text>
<rect x="291.40" y="433.30" width="18.00" height="92.60" fill="#231815"/>
<line x1="300.40" y1="432.80" x2="300.40" y2="433.80" stroke="#231815" stroke-width="1.45" stroke-linecap="butt"/>
<line x1="295.70" y1="432.80" x2="305.10" y2="432.80" stroke="#231815" stroke-width="1.45" stroke-linecap="butt"/>
<text x="300.70" y="431.77" font-size="7.8" text-anchor="middle" font-weight="bold" fill="#231815" stroke="#231815" stroke-width="0.1" letter-spacing="0.65">**</text>
<line x1="212.60" y1="413.00" x2="212.60" y2="526.50" stroke="#231815" stroke-width="1.2" stroke-linecap="butt"/>
<line x1="209.40" y1="413.60" x2="212.60" y2="413.60" stroke="#231815" stroke-width="1.2" stroke-linecap="butt"/>
<text transform="translate(208.80 416.60) scale(0.82 1)" font-size="8.54" text-anchor="end" font-weight="bold" fill="#231815" stroke="#231815" stroke-width="0.28">2.0</text>
<line x1="209.40" y1="441.70" x2="212.60" y2="441.70" stroke="#231815" stroke-width="1.2" stroke-linecap="butt"/>
<text transform="translate(208.80 444.70) scale(0.82 1)" font-size="8.54" text-anchor="end" font-weight="bold" fill="#231815" stroke="#231815" stroke-width="0.28">1.5</text>
<line x1="209.40" y1="469.80" x2="212.60" y2="469.80" stroke="#231815" stroke-width="1.2" stroke-linecap="butt"/>
<text transform="translate(208.80 472.80) scale(0.82 1)" font-size="8.54" text-anchor="end" font-weight="bold" fill="#231815" stroke="#231815" stroke-width="0.28">1.0</text>
<line x1="209.40" y1="497.80" x2="212.60" y2="497.80" stroke="#231815" stroke-width="1.2" stroke-linecap="butt"/>
<text transform="translate(208.80 500.80) scale(0.82 1)" font-size="8.54" text-anchor="end" font-weight="bold" fill="#231815" stroke="#231815" stroke-width="0.28">0.5</text>
<line x1="209.40" y1="525.90" x2="212.60" y2="525.90" stroke="#231815" stroke-width="1.2" stroke-linecap="butt"/>
<text transform="translate(208.80 528.90) scale(0.82 1)" font-size="8.54" text-anchor="end" font-weight="bold" fill="#231815" stroke="#231815" stroke-width="0.28">0.0</text>
<line x1="212.00" y1="525.90" x2="312.40" y2="525.90" stroke="#231815" stroke-width="1.2" stroke-linecap="butt"/>
<line x1="225.10" y1="525.90" x2="225.10" y2="529.10" stroke="#231815" stroke-width="1.2" stroke-linecap="butt"/>
<line x1="250.20" y1="525.90" x2="250.20" y2="529.10" stroke="#231815" stroke-width="1.2" stroke-linecap="butt"/>
<line x1="275.30" y1="525.90" x2="275.30" y2="529.10" stroke="#231815" stroke-width="1.2" stroke-linecap="butt"/>
<line x1="300.40" y1="525.90" x2="300.40" y2="529.10" stroke="#231815" stroke-width="1.2" stroke-linecap="butt"/>
<text transform="translate(225.10 539.30) scale(0.86 1)" font-size="8.84" text-anchor="middle" font-weight="bold" fill="#231815" stroke="#231815" stroke-width="0.28">0</text>
<text transform="translate(250.20 539.30) scale(0.86 1)" font-size="8.84" text-anchor="middle" font-weight="bold" fill="#231815" stroke="#231815" stroke-width="0.28">5</text>
<text transform="translate(275.30 539.30) scale(0.86 1)" font-size="8.84" text-anchor="middle" font-weight="bold" fill="#231815" stroke="#231815" stroke-width="0.28">10</text>
<text transform="translate(300.40 539.30) scale(0.86 1)" font-size="8.84" text-anchor="middle" font-weight="bold" fill="#231815" stroke="#231815" stroke-width="0.28">20</text>
<text transform="translate(202.00 539.30) scale(0.86 1)" font-size="8.95" text-anchor="start" font-weight="bold" fill="#231815" stroke="#231815" stroke-width="0.28">MOI</text>
</g>
</svg>
</body></html>
